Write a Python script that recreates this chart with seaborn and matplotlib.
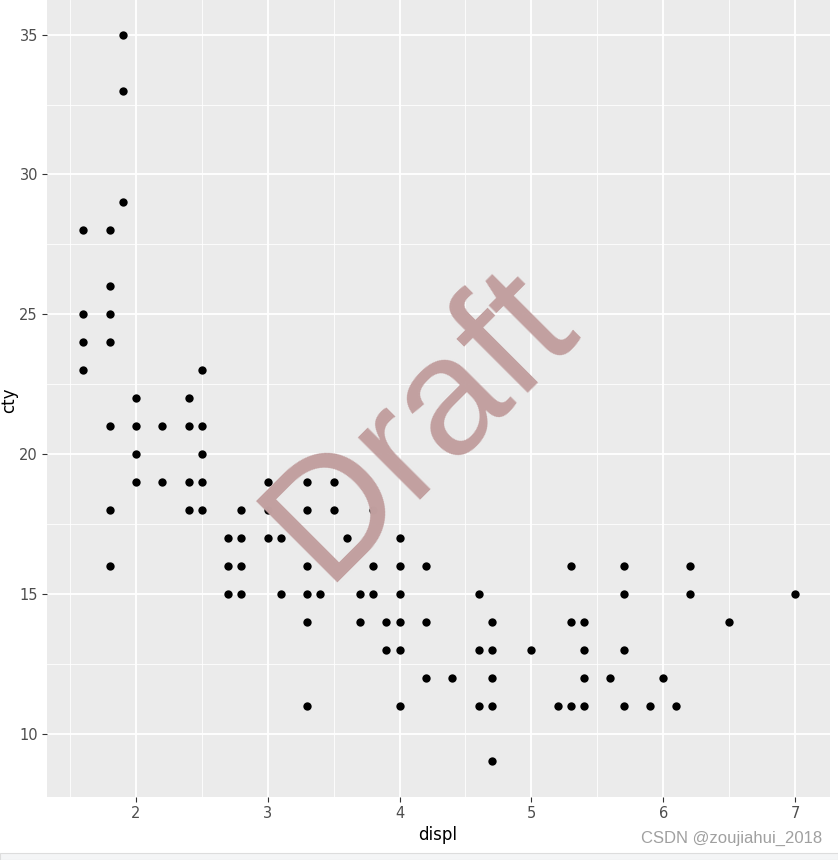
import matplotlib
matplotlib.use("Agg")
import pandas as pd
import seaborn as sns
import matplotlib.pyplot as plt
from matplotlib.patches import Rectangle

# Data (unique displ/cty pairs)
displ = [1.9, 1.9, 1.9,
         1.6, 1.8,
         1.8,
         1.6, 1.8,
         1.6, 1.8,
         1.6, 2.5,
         2.0, 2.4,
         1.8, 2.0, 2.2, 2.4, 2.5,
         2.0, 2.5,
         2.0, 2.2, 2.4, 2.5, 3.0, 3.3, 3.5,
         1.8, 2.4, 2.5, 2.8, 3.0, 3.3, 3.5, 3.8,
         2.7, 2.8, 3.0, 3.1, 3.6, 4.0,
         1.8, 2.7, 2.8, 3.3, 3.8, 4.0, 4.2, 5.3, 5.7, 6.2,
         2.7, 2.8, 3.1, 3.3, 3.4, 3.7, 3.8, 4.0, 4.6, 5.7, 6.2, 7.0,
         3.3, 3.7, 3.9, 4.0, 4.2, 4.7, 5.3, 5.4, 6.5,
         3.9, 4.0, 4.6, 4.7, 5.0, 5.4, 5.7,
         4.2, 4.4, 4.7, 5.4, 5.6, 6.0,
         3.3, 4.0, 4.6, 4.7, 5.2, 5.3, 5.4, 5.7, 5.9, 6.1,
         4.7]
cty = [35, 33, 29,
       28, 28,
       26,
       25, 25,
       24, 24,
       23, 23,
       22, 22,
       21, 21, 21, 21, 21,
       20, 20,
       19, 19, 19, 19, 19, 19, 19,
       18, 18, 18, 18, 18, 18, 18, 18,
       17, 17, 17, 17, 17, 17,
       16, 16, 16, 16, 16, 16, 16, 16, 16, 16,
       15, 15, 15, 15, 15, 15, 15, 15, 15, 15, 15, 15,
       14, 14, 14, 14, 14, 14, 14, 14, 14,
       13, 13, 13, 13, 13, 13, 13,
       12, 12, 12, 12, 12, 12,
       11, 11, 11, 11, 11, 11, 11, 11, 11, 11,
       9]

df = pd.DataFrame({"displ": displ, "cty": cty})

fig = plt.figure(figsize=(8.38, 8.6), dpi=100)
ax = fig.add_axes([47 / 838, 1 - 797 / 860, 783 / 838, 797 / 860])
ax.set_facecolor("#EBEBEB")

sns.scatterplot(data=df, x="displ", y="cty", ax=ax, color="black",
                s=36, linewidth=0, zorder=3)

ax.set_xlim(1.325, 7.266)
ax.set_ylim(7.73, 36.24)
ax.set_xticks([2, 3, 4, 5, 6, 7])
ax.set_yticks([10, 15, 20, 25, 30, 35])
ax.set_xticks([1.5, 2.5, 3.5, 4.5, 5.5, 6.5], minor=True)
ax.set_yticks([12.5, 17.5, 22.5, 27.5, 32.5], minor=True)
ax.grid(which="major", color="white", linewidth=1.3, zorder=0)
ax.grid(which="minor", color="white", linewidth=0.6, zorder=0)
ax.set_axisbelow(True)
for s in ax.spines.values():
    s.set_visible(False)
ax.tick_params(which="major", length=3.5, width=0.8, color="#333333",
               labelcolor="#4D4D4D", labelsize=10.5, pad=3)
ax.tick_params(which="minor", length=0)
ax.set_xlabel("displ", fontsize=12, color="black")
ax.set_ylabel("cty", fontsize=12, color="black")
ax.xaxis.set_label_coords(0.4994, -0.0364)
ax.yaxis.set_label_coords(-0.037, 0.498)

# Draft watermark
ax.text(0.478, 0.467, "Draft", transform=ax.transAxes, rotation=45,
        fontsize=120, color="#C2A0A0", family="Liberation Sans",
        ha="center", va="center", zorder=5)

# page strip and CSDN mark
fig.patches.append(Rectangle((0, 0), 1, 7 / 860, transform=fig.transFigure,
                             facecolor="#F4F5F6", edgecolor="#DDDDDD",
                             linewidth=0.8))
fig.text(822 / 838, 1 - 838 / 860, "CSDN @zoujiahui_2018", ha="right",
         va="center", fontsize=12, color="#A0A0A0", family="Liberation Sans")

fig.savefig("out.png", dpi=100)
